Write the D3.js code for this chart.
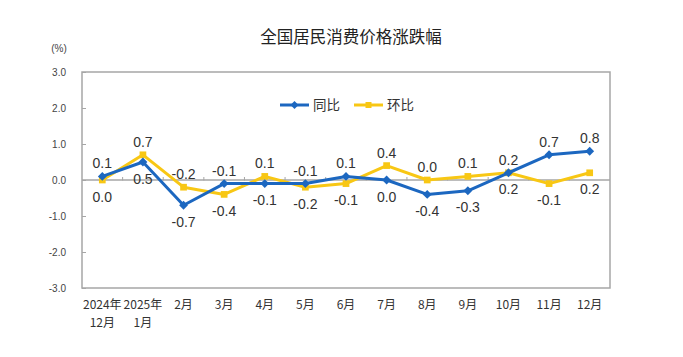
<!DOCTYPE html>
<html><head><meta charset="utf-8">
<script src="https://cdn.jsdelivr.net/npm/d3@7"></script>
<style>body{margin:0;background:#fff;}svg{display:block;}</style>
</head><body>
<svg id="c" width="683" height="357"></svg>
<script>
const categories = ["2024年|12月","2025年|1月","2月","3月","4月","5月","6月","7月","8月","9月","10月","11月","12月"];
const yoy = [0.1, 0.5, -0.7, -0.1, -0.1, -0.1, 0.1, 0.0, -0.4, -0.3, 0.2, 0.7, 0.8];
const mom = [0.0, 0.7, -0.2, -0.4, 0.1, -0.2, -0.1, 0.4, 0.0, 0.1, 0.2, -0.1, 0.2];
// label position: 1 = above, -1 = below
const yoyPos = [1, -1, -1, 1, -1, 1, 1, -1, -1, -1, -1, 1, 1];
const momPos = [-1, 1, 1, -1, 1, -1, -1, 1, 1, 1, 1, -1, -1];
const yTicks = [3, 2, 1, 0, -1, -2, -3];
const seriesNames = ["同比", "环比"];
const title = "全国居民消费价格涨跌幅";

const svg = d3.select("#c");
const L = 82, R = 610, T = 72, B = 288;
const x = d3.scaleBand().domain(d3.range(categories.length)).range([L, R]);
const y = d3.scaleLinear().domain([-3, 3]).range([B, T]);
const cx = i => x(i) + x.bandwidth() / 2;
const blue = "#1c67c0", yellow = "#f8c714", grid = "#a6a6a6";
const sans = "'Liberation Sans', Arial, 'Noto Sans CJK SC', sans-serif";
const cjk = "'Noto Sans CJK SC', sans-serif";
const fmt = d => d3.format(".1f")(d).replace("\u2212", "-");

svg.append("text").attr("x", 351).attr("y", 43).attr("text-anchor", "middle")
  .attr("font-family", cjk).attr("font-size", 16.5).attr("fill", "#222").text(title);
svg.append("text").attr("x", 59).attr("y", 52).attr("text-anchor", "middle")
  .attr("font-family", sans).attr("font-size", 10).attr("fill", "#444").text("(%)");

// frame
svg.append("rect").attr("x", L).attr("y", T).attr("width", R - L).attr("height", B - T)
  .attr("fill", "none").attr("stroke", grid).attr("stroke-width", 1.5);

// y axis
const yAxis = d3.axisRight(y).tickValues(yTicks).tickSize(4).tickFormat("");
const ga = svg.append("g").attr("transform", `translate(${L},0)`).call(yAxis);
ga.select(".domain").remove();
ga.selectAll("line").attr("stroke", grid);
svg.selectAll(".ylab").data(yTicks).join("text")
  .attr("x", 66).attr("y", d => y(d) + 3.5).attr("text-anchor", "end")
  .attr("font-family", sans).attr("font-size", 10).attr("fill", "#444")
  .text(fmt);

// zero line with category ticks
svg.append("line").attr("x1", L).attr("x2", R).attr("y1", y(0)).attr("y2", y(0))
  .attr("stroke", grid).attr("stroke-width", 1.5);
svg.selectAll(".xt").data(d3.range(1, categories.length)).join("line")
  .attr("x1", i => x(i)).attr("x2", i => x(i)).attr("y1", y(0) - 3).attr("y2", y(0) + 0.5)
  .attr("stroke", grid);

// x labels
categories.forEach((c, i) => {
  const parts = c.split("|");
  parts.forEach((p, k) => {
    svg.append("text").attr("x", cx(i)).attr("y", 309 + k * 18).attr("text-anchor", "middle")
      .attr("font-family", cjk).attr("font-size", 12).attr("fill", "#333").text(p);
  });
});

const line = d3.line().x((d, i) => cx(i)).y(d => y(d));
function drawSeries(vals, color, shape, pos) {
  svg.append("path").datum(vals).attr("d", line).attr("fill", "none")
    .attr("stroke", color).attr("stroke-width", 3).attr("stroke-linejoin", "round");
  svg.selectAll(null).data(vals).join("path")
    .attr("transform", (d, i) => `translate(${cx(i)},${y(d)})`)
    .attr("d", d3.symbol().type(shape === "diamond" ? d3.symbolDiamond2 : d3.symbolSquare).size(shape === "diamond" ? 50 : 45))
    .attr("fill", color);
  svg.selectAll(null).data(vals).join("text")
    .attr("x", (d, i) => cx(i))
    .attr("y", (d, i) => pos[i] > 0 ? y(d) - 8 : y(d) + 21.5)
    .attr("text-anchor", "middle").attr("font-family", sans).attr("font-size", 14).attr("fill", "#333")
    .text(fmt);
}
drawSeries(mom, yellow, "square", momPos);
drawSeries(yoy, blue, "diamond", yoyPos);

// legend
const leg = [{n: seriesNames[0], c: blue, s: "diamond", x: 280}, {n: seriesNames[1], c: yellow, s: "square", x: 354}];
leg.forEach(l => {
  svg.append("line").attr("x1", l.x).attr("x2", l.x + 29).attr("y1", 105).attr("y2", 105)
    .attr("stroke", l.c).attr("stroke-width", 3);
  svg.append("path").attr("transform", `translate(${l.x + 14.5},105)`)
    .attr("d", d3.symbol().type(l.s === "diamond" ? d3.symbolDiamond2 : d3.symbolSquare).size(l.s === "diamond" ? 40 : 36))
    .attr("fill", l.c);
  svg.append("text").attr("x", l.x + 33).attr("y", 110).attr("font-family", cjk)
    .attr("font-size", 13.5).attr("fill", "#333").text(l.n);
});
</script>
</body></html>
